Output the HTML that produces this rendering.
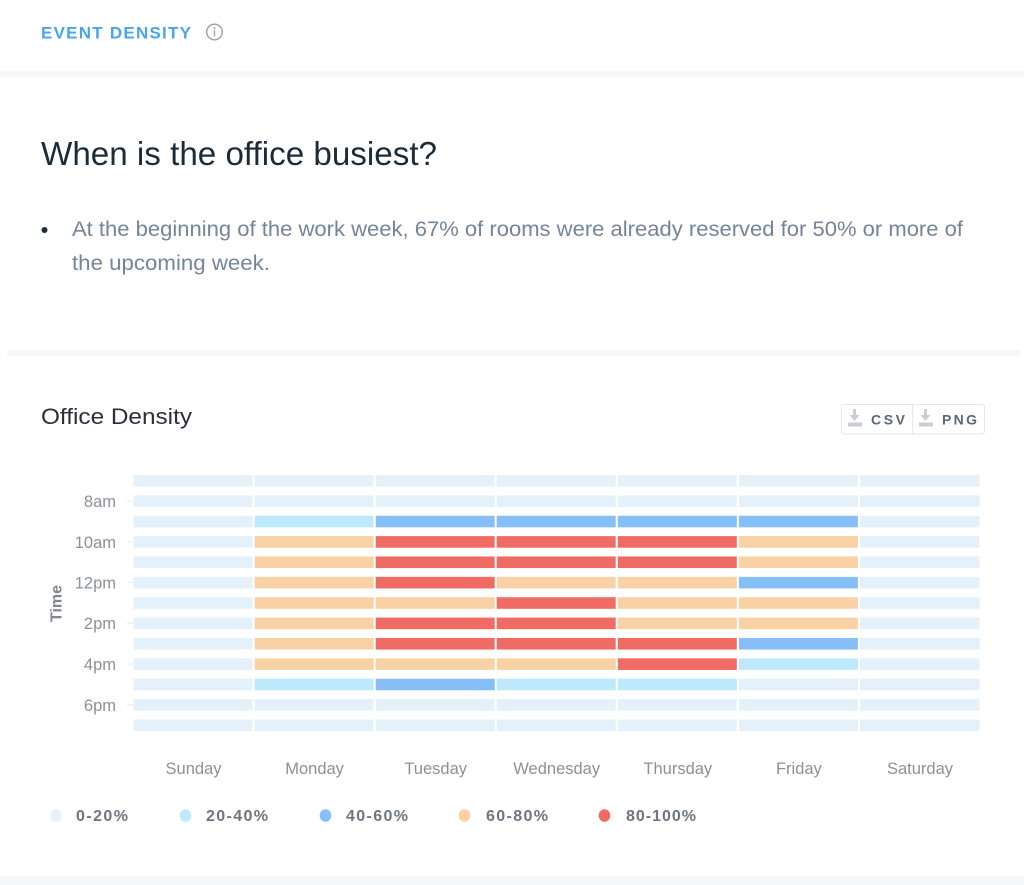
<!DOCTYPE html>
<html>
<head>
<meta charset="utf-8">
<style>
  html,body{margin:0;padding:0;background:#fff;}
  body{width:1024px;height:885px;overflow:hidden;}
  svg{display:block;}
  .l0{fill:#e4f1fa}
  .l1{fill:#bee8fb}
  .l2{fill:#86bef8}
  .l3{fill:#f8d2a4}
  .l4{fill:#f06b64}
  text{font-family:"Liberation Sans",sans-serif;}
  .yl{font-size:16.5px;fill:#8b9099;text-anchor:end;}
  .xl{font-size:16.5px;fill:#8b9099;text-anchor:middle;}
  .lg{font-size:16px;font-weight:bold;fill:#6e7580;}
</style>
</head>
<body>
<svg width="1024" height="885" viewBox="0 0 1024 885" xmlns="http://www.w3.org/2000/svg">
  <rect x="0" y="0" width="1024" height="885" fill="#ffffff"/>
  <rect x="0" y="71" width="1024" height="6" fill="#f6f7f9"/>
  <rect x="7" y="350" width="1013" height="6" fill="#f6f7f9"/>
  <rect x="0" y="876" width="1024" height="9" fill="#f6f7f9"/>

  <text x="41" y="38.5" font-size="17" font-weight="bold" fill="#4aa3ef" textLength="150" lengthAdjust="spacing">EVENT DENSITY</text>
  <circle cx="214.5" cy="32" r="7.8" fill="none" stroke="#9aa0aa" stroke-width="1.4"/>
  <circle cx="214.5" cy="28.3" r="1" fill="#9aa0aa"/>
  <rect x="213.8" y="30.5" width="1.4" height="5.6" fill="#9aa0aa"/>

  <text x="41" y="165" font-size="33" fill="#1c2b3a" textLength="396" lengthAdjust="spacingAndGlyphs">When is the office busiest?</text>

  <circle cx="44.5" cy="230" r="3" fill="#1c2b3a"/>
  <text x="72" y="236" font-size="21" fill="#74859a" textLength="891" lengthAdjust="spacingAndGlyphs">At the beginning of the work week, 67% of rooms were already reserved for 50% or more of</text>
  <text x="72" y="270" font-size="21" fill="#74859a" textLength="198" lengthAdjust="spacingAndGlyphs">the upcoming week.</text>

  <text x="41" y="424" font-size="22.5" fill="#2b2f3a" textLength="151" lengthAdjust="spacingAndGlyphs">Office Density</text>

  <rect x="841.5" y="404.5" width="143" height="29.5" rx="3" fill="#fff" stroke="#e3e6ea" stroke-width="1"/>
  <line x1="912.7" y1="405" x2="912.7" y2="434" stroke="#e3e6ea" stroke-width="1"/>
  <g fill="#c9ced5">
    <rect x="853" y="409" width="3" height="8"/>
    <polygon points="849.5,415 859.5,415 854.5,421"/>
    <rect x="848" y="422.5" width="14" height="4"/>
  </g>
  <text x="871" y="424.5" font-size="14" font-weight="bold" fill="#5c6776" textLength="34" lengthAdjust="spacing">CSV</text>
  <g fill="#c9ced5" transform="translate(71,0)">
    <rect x="853" y="409" width="3" height="8"/>
    <polygon points="849.5,415 859.5,415 854.5,421"/>
    <rect x="848" y="422.5" width="14" height="4"/>
  </g>
  <text x="942" y="424.5" font-size="14" font-weight="bold" fill="#5c6776" textLength="35" lengthAdjust="spacing">PNG</text>

  <text transform="translate(61.5,603.5) rotate(-90)" font-size="16" font-weight="bold" fill="#80868f" text-anchor="middle">Time</text>

  <g stroke="#e6e9ed" stroke-width="1">
    <line x1="127" y1="501.1" x2="133" y2="501.1"/>
    <line x1="127" y1="541.9" x2="133" y2="541.9"/>
    <line x1="127" y1="582.6" x2="133" y2="582.6"/>
    <line x1="127" y1="623.3" x2="133" y2="623.3"/>
    <line x1="127" y1="664.1" x2="133" y2="664.1"/>
    <line x1="127" y1="704.8" x2="133" y2="704.8"/>
  </g>
  <text class="yl" x="116" y="507">8am</text>
  <text class="yl" x="116" y="548">10am</text>
  <text class="yl" x="116" y="588.5">12pm</text>
  <text class="yl" x="116" y="629">2pm</text>
  <text class="yl" x="116" y="670">4pm</text>
  <text class="yl" x="116" y="711">6pm</text>

  <g transform="translate(0,475)">
    <rect class="l0" x="133.5" width="119" height="11.6"/><rect class="l0" x="254.6" width="119" height="11.6"/><rect class="l0" x="375.7" width="119" height="11.6"/><rect class="l0" x="496.7" width="119" height="11.6"/><rect class="l0" x="617.8" width="119" height="11.6"/><rect class="l0" x="738.9" width="119" height="11.6"/><rect class="l0" x="860" width="119.5" height="11.6"/>
  </g>
  <g transform="translate(0,495.37)">
    <rect class="l0" x="133.5" width="119" height="11.6"/><rect class="l0" x="254.6" width="119" height="11.6"/><rect class="l0" x="375.7" width="119" height="11.6"/><rect class="l0" x="496.7" width="119" height="11.6"/><rect class="l0" x="617.8" width="119" height="11.6"/><rect class="l0" x="738.9" width="119" height="11.6"/><rect class="l0" x="860" width="119.5" height="11.6"/>
  </g>
  <g transform="translate(0,515.74)">
    <rect class="l0" x="133.5" width="119" height="11.6"/><rect class="l1" x="254.6" width="119" height="11.6"/><rect class="l2" x="375.7" width="119" height="11.6"/><rect class="l2" x="496.7" width="119" height="11.6"/><rect class="l2" x="617.8" width="119" height="11.6"/><rect class="l2" x="738.9" width="119" height="11.6"/><rect class="l0" x="860" width="119.5" height="11.6"/>
  </g>
  <g transform="translate(0,536.11)">
    <rect class="l0" x="133.5" width="119" height="11.6"/><rect class="l3" x="254.6" width="119" height="11.6"/><rect class="l4" x="375.7" width="119" height="11.6"/><rect class="l4" x="496.7" width="119" height="11.6"/><rect class="l4" x="617.8" width="119" height="11.6"/><rect class="l3" x="738.9" width="119" height="11.6"/><rect class="l0" x="860" width="119.5" height="11.6"/>
  </g>
  <g transform="translate(0,556.48)">
    <rect class="l0" x="133.5" width="119" height="11.6"/><rect class="l3" x="254.6" width="119" height="11.6"/><rect class="l4" x="375.7" width="119" height="11.6"/><rect class="l4" x="496.7" width="119" height="11.6"/><rect class="l4" x="617.8" width="119" height="11.6"/><rect class="l3" x="738.9" width="119" height="11.6"/><rect class="l0" x="860" width="119.5" height="11.6"/>
  </g>
  <g transform="translate(0,576.85)">
    <rect class="l0" x="133.5" width="119" height="11.6"/><rect class="l3" x="254.6" width="119" height="11.6"/><rect class="l4" x="375.7" width="119" height="11.6"/><rect class="l3" x="496.7" width="119" height="11.6"/><rect class="l3" x="617.8" width="119" height="11.6"/><rect class="l2" x="738.9" width="119" height="11.6"/><rect class="l0" x="860" width="119.5" height="11.6"/>
  </g>
  <g transform="translate(0,597.22)">
    <rect class="l0" x="133.5" width="119" height="11.6"/><rect class="l3" x="254.6" width="119" height="11.6"/><rect class="l3" x="375.7" width="119" height="11.6"/><rect class="l4" x="496.7" width="119" height="11.6"/><rect class="l3" x="617.8" width="119" height="11.6"/><rect class="l3" x="738.9" width="119" height="11.6"/><rect class="l0" x="860" width="119.5" height="11.6"/>
  </g>
  <g transform="translate(0,617.59)">
    <rect class="l0" x="133.5" width="119" height="11.6"/><rect class="l3" x="254.6" width="119" height="11.6"/><rect class="l4" x="375.7" width="119" height="11.6"/><rect class="l4" x="496.7" width="119" height="11.6"/><rect class="l3" x="617.8" width="119" height="11.6"/><rect class="l3" x="738.9" width="119" height="11.6"/><rect class="l0" x="860" width="119.5" height="11.6"/>
  </g>
  <g transform="translate(0,637.96)">
    <rect class="l0" x="133.5" width="119" height="11.6"/><rect class="l3" x="254.6" width="119" height="11.6"/><rect class="l4" x="375.7" width="119" height="11.6"/><rect class="l4" x="496.7" width="119" height="11.6"/><rect class="l4" x="617.8" width="119" height="11.6"/><rect class="l2" x="738.9" width="119" height="11.6"/><rect class="l0" x="860" width="119.5" height="11.6"/>
  </g>
  <g transform="translate(0,658.33)">
    <rect class="l0" x="133.5" width="119" height="11.6"/><rect class="l3" x="254.6" width="119" height="11.6"/><rect class="l3" x="375.7" width="119" height="11.6"/><rect class="l3" x="496.7" width="119" height="11.6"/><rect class="l4" x="617.8" width="119" height="11.6"/><rect class="l1" x="738.9" width="119" height="11.6"/><rect class="l0" x="860" width="119.5" height="11.6"/>
  </g>
  <g transform="translate(0,678.7)">
    <rect class="l0" x="133.5" width="119" height="11.6"/><rect class="l1" x="254.6" width="119" height="11.6"/><rect class="l2" x="375.7" width="119" height="11.6"/><rect class="l1" x="496.7" width="119" height="11.6"/><rect class="l1" x="617.8" width="119" height="11.6"/><rect class="l0" x="738.9" width="119" height="11.6"/><rect class="l0" x="860" width="119.5" height="11.6"/>
  </g>
  <g transform="translate(0,699.07)">
    <rect class="l0" x="133.5" width="119" height="11.6"/><rect class="l0" x="254.6" width="119" height="11.6"/><rect class="l0" x="375.7" width="119" height="11.6"/><rect class="l0" x="496.7" width="119" height="11.6"/><rect class="l0" x="617.8" width="119" height="11.6"/><rect class="l0" x="738.9" width="119" height="11.6"/><rect class="l0" x="860" width="119.5" height="11.6"/>
  </g>
  <g transform="translate(0,719.44)">
    <rect class="l0" x="133.5" width="119" height="11.6"/><rect class="l0" x="254.6" width="119" height="11.6"/><rect class="l0" x="375.7" width="119" height="11.6"/><rect class="l0" x="496.7" width="119" height="11.6"/><rect class="l0" x="617.8" width="119" height="11.6"/><rect class="l0" x="738.9" width="119" height="11.6"/><rect class="l0" x="860" width="119.5" height="11.6"/>
  </g>

  <text class="xl" x="193.5" y="774">Sunday</text>
  <text class="xl" x="314.6" y="774">Monday</text>
  <text class="xl" x="435.7" y="774">Tuesday</text>
  <text class="xl" x="556.7" y="774">Wednesday</text>
  <text class="xl" x="677.8" y="774">Thursday</text>
  <text class="xl" x="798.9" y="774">Friday</text>
  <text class="xl" x="920" y="774">Saturday</text>

  <ellipse cx="56" cy="815.5" rx="5.8" ry="6.3" class="l0"/>
  <text class="lg" x="76" y="821" textLength="52" lengthAdjust="spacing">0-20%</text>
  <ellipse cx="185.5" cy="815.5" rx="5.8" ry="6.3" class="l1"/>
  <text class="lg" x="206" y="821" textLength="62" lengthAdjust="spacing">20-40%</text>
  <ellipse cx="325.5" cy="815.5" rx="5.8" ry="6.3" class="l2"/>
  <text class="lg" x="346" y="821" textLength="62" lengthAdjust="spacing">40-60%</text>
  <ellipse cx="464.5" cy="815.5" rx="5.8" ry="6.3" class="l3"/>
  <text class="lg" x="486" y="821" textLength="62" lengthAdjust="spacing">60-80%</text>
  <ellipse cx="604.5" cy="815.5" rx="5.8" ry="6.3" class="l4"/>
  <text class="lg" x="626" y="821" textLength="70" lengthAdjust="spacing">80-100%</text>
</svg>
</body>
</html>
